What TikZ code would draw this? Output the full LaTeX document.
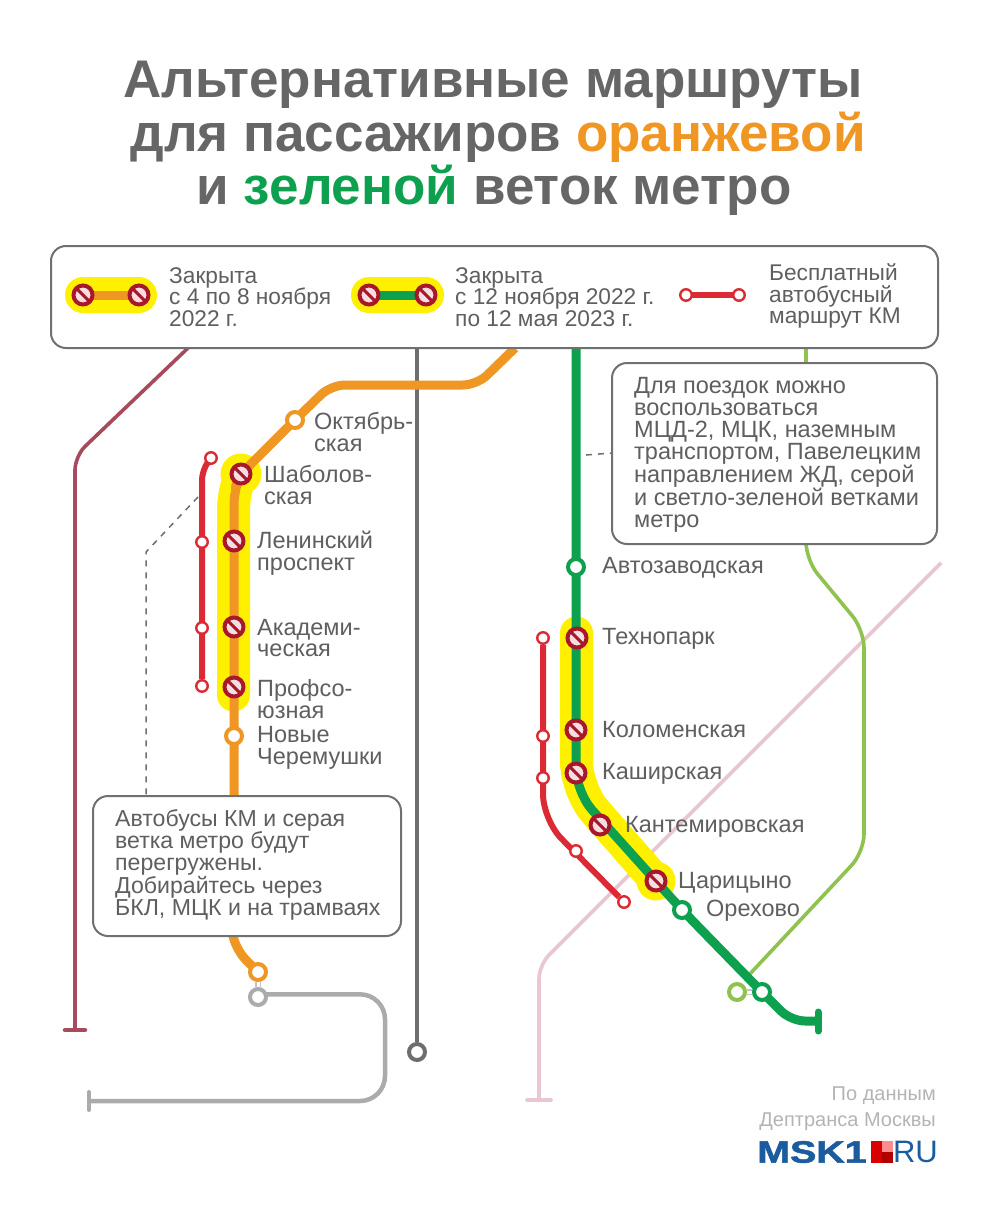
\documentclass[tikz,border=0pt]{standalone}
\usepackage{fontspec}
\setmainfont{Liberation Sans}
\newfontfamily\logofont[FakeBold=1.6]{Liberation Sans Bold}
\usetikzlibrary{calc}
\pgfdeclarelayer{bg}
\pgfsetlayers{bg,main}
\definecolor{txt}{HTML}{5F5F5F}
\definecolor{titlegray}{HTML}{666666}
\definecolor{boxline}{HTML}{707070}
\definecolor{orangeline}{HTML}{EF9623}
\definecolor{greenline}{HTML}{0DA14F}
\definecolor{limeline}{HTML}{8FC24E}
\definecolor{pinkline}{HTML}{E9C6D2}
\definecolor{maroonline}{HTML}{A84A5E}
\definecolor{grayline}{HTML}{ABABAB}
\definecolor{darkline}{HTML}{6E6E6E}
\definecolor{busred}{HTML}{DC2A35}
\definecolor{stopred}{HTML}{A8172A}
\definecolor{stopfill}{HTML}{F6DDE0}
\definecolor{closure}{HTML}{FFF000}
\definecolor{credit}{HTML}{B4B4B4}
\definecolor{logoblue}{HTML}{1B5C9E}
\tikzset{
  lbl/.style={text=txt,anchor=west,align=left,inner sep=0pt,font=\fontsize{23.5}{21.7}\selectfont},
  leglbl/.style={lbl,font=\fontsize{22.7}{21.7}\selectfont},
  warnlbl/.style={lbl,font=\fontsize{23.1}{21.9}\selectfont},
  ttl/.style={text=titlegray,inner sep=0pt,font=\fontsize{53}{53}\selectfont\bfseries},
  infobox/.style={draw=boxline,fill=white,line width=2pt,rounded corners=15pt,inner sep=0pt},
  noentry/.style={circle,draw=stopred,fill=stopfill,line width=4pt,minimum size=19pt,inner sep=0pt,
    path picture={\draw[stopred,line width=3pt] (path picture bounding box.north west) -- (path picture bounding box.south east);}},
  openst/.style={circle,fill=white,line width=4pt,minimum size=16pt,inner sep=0pt},
  busst/.style={circle,draw=busred,fill=white,line width=2.4pt,minimum size=11.5pt,inner sep=0pt},
  metro/.style={line width=9pt,line join=round},
  thinline/.style={line width=3.6pt,line join=round},
  busline/.style={draw=busred,line width=6pt,line join=round},
  closed/.style={draw=closure,line width=33pt,line cap=round,line join=round},
  hint/.style={draw=darkline,line width=1.5pt,dash pattern=on 6pt off 6pt}
}
\begin{document}
\begin{tikzpicture}[x=1pt,y=-1pt]
\useasboundingbox (0,0) rectangle (984,1225);
\begin{pgfonlayer}{bg}
\fill[white] (0,0) rectangle (984,1225);
\end{pgfonlayer}

% title
\node[ttl] (t1) at (493,85) {Альтернативные маршруты};
\node[ttl] (t2) at (498,137) {для пассажиров \textcolor{orangeline}{оранжевой}};
\node[ttl] (t3) at (494,190) {и \textcolor{greenline}{зеленой} веток метро};

% boxes
\node[infobox,minimum width=887pt,minimum height=102pt] (legend) at (494.5,297) {};
\node[infobox,minimum width=325pt,minimum height=181pt] (info) at (774.5,453.5) {};
\node[infobox,minimum width=308pt,minimum height=140pt] (warn) at (247,866) {};

% legend bands and lines sit on the box
\draw[draw=closure,line width=36pt,line cap=round] (83,295) -- (139,295);
\draw[draw=closure,line width=36pt,line cap=round] (369,295) -- (426,295);
\draw[draw=orangeline,line width=9pt] (83,295) -- (139,295);
\draw[draw=greenline,line width=9pt] (369,295) -- (426,295);
\draw[draw=busred,line width=6pt] (686,295) -- (739,295);

\node[noentry] (la) at (83,295) {};
\node[noentry] (lb) at (139,295) {};
\node[noentry] (lc) at (369,295) {};
\node[noentry] (ld) at (426,295) {};
\node[busst] (le) at (686,295) {};
\node[busst] (lf) at (739,295) {};
\node[leglbl] (lt1) at (169,297) {Закрыта\\с 4 по 8 ноября\\2022 г.};
\node[leglbl] (lt2) at (455,297) {Закрыта\\с 12 ноября 2022 г.\\по 12 мая 2023 г.};
\node[leglbl] (lt3) at (769,296) {Бесплатный\\автобусный\\маршрут КМ};

% orange stations
\node[openst,draw=orangeline] (okt) at (295,420) {};
\node[noentry] (sha) at (241,474) {};
\node[noentry] (len) at (234,541) {};
\node[noentry] (aka) at (234,627) {};
\node[noentry] (pro) at (234,687) {};
\node[openst,draw=orangeline] (nov) at (234,736) {};
\node[openst,draw=orangeline] (oend) at (258,972) {};
\node[openst,draw=grayline] (gst) at (258,997) {};
\node[openst,draw=darkline] (dst) at (417,1052) {};

% green stations
\node[openst,draw=greenline] (avt) at (576,567) {};
\node[noentry] (tex) at (577,638) {};
\node[noentry] (kol) at (576,730) {};
\node[noentry] (kas) at (576,773) {};
\node[noentry] (kan) at (600,825) {};
\node[noentry] (car) at (656,881) {};
\node[openst,draw=greenline] (ore) at (682,910) {};
\node[openst,draw=greenline] (gtr) at (762,992) {};
\node[openst,draw=limeline] (ltr) at (737,992) {};

% bus stops
\node[busst] (a1) at (211,458) {};
\node[busst] (a2) at (202,542) {};
\node[busst] (a3) at (202,628) {};
\node[busst] (a4) at (202,686) {};
\node[busst] (b1) at (543,638) {};
\node[busst] (b2) at (543,736) {};
\node[busst] (b3) at (543,778) {};
\node[busst] (b4) at (576,851) {};
\node[busst] (b5) at (624,902) {};

% free line ends
\coordinate (oTop) at (515,348);
\coordinate (gTop) at (576,348);
\coordinate (lTop) at (806,348);
\coordinate (dTop) at (417,348);
\coordinate (mTop) at (188,348);
\coordinate (pTop) at (941,563);
\coordinate (mEnd) at (75,1030);
\coordinate (pEnd) at (539,1100);
\coordinate (gEnd) at (89,1101);
\coordinate (tEnd) at (818,1021);
\coordinate (gStart) at (258,994.3);
\coordinate (bandTop) at (576.5,633);

\begin{pgfonlayer}{bg}
  % thin lines
  \draw[thinline,draw=pinkline,rounded corners=14pt] (pTop) -- (539,965) -- (pEnd);
  \draw[thinline,draw=pinkline,line cap=round] (527,1100) -- (551,1100);
  \draw[thinline,draw=maroonline,rounded corners=14pt] (mTop) -- (75,456) -- (mEnd);
  \draw[line width=4.5pt,draw=maroonline,line cap=round] (65,1030) -- (85,1030);
  \draw[line width=4.5pt,draw=darkline] (dTop) -- (dst);
  \draw[line width=4.5pt,draw=grayline,rounded corners=25pt] (gStart) -- (385,994.3) -- (385,1101) -- (gEnd);
  \draw[line width=4pt,draw=grayline,line cap=round] (89,1092) -- (89,1110);
  \draw[thinline,draw=limeline,rounded corners=18pt] (lTop) -- (806,560) -- (864,630) -- (864,852) -- (748,976);

  % hints
  \draw[hint] (198,497) -- (146,552) -- (146,796);
  \draw[hint] (586,455) -- (612,453);

  % bus lines
  \draw[busline,rounded corners=10pt] (a1) -- (202,470) -- (a4);
  \draw[busline,rounded corners=26pt] (b1) -- (543,820) -- (b5);

  % closure bands
  \draw[closed,rounded corners=14pt] (sha.center) -- (233.5,495) -- (233.5,695);
  \fill[closure] (sha.center) circle[radius=20.5pt];
  \draw[closed,rounded corners=28pt] (bandTop) -- (576.5,790) -- (car.center);
  \fill[closure] (car.center) circle[radius=19.5pt];

  % orange line
  \draw[metro,draw=orangeline,rounded corners=14pt] (oTop) -- (477,385) -- (331,385) -- (okt.center) -- (241,474) -- (234,490) -- (234,936);
  \draw[metro,draw=orangeline,rounded corners=14pt] (233,936) -- (236,950) -- (oend.center);

  % green line
  \draw[metro,draw=greenline,rounded corners=24pt] (gTop) -- (576,792) -- (ore.center) -- (762,992);
  \draw[metro,draw=greenline,rounded corners=14pt] (gtr.center) -- (791,1021) -- (tEnd);
  \draw[draw=greenline,line width=7pt,line cap=round] (818,1012) -- (818,1031);

  % transfers
  \draw[draw=grayline!70,line width=6.5pt] (oend) -- (gst);
  \draw[draw=white,line width=3pt] (oend.center) -- (gst.center);
  \draw[draw=grayline!70,line width=6.5pt] (ltr) -- (gtr);
  \draw[draw=white,line width=3pt] (ltr.center) -- (gtr.center);
\end{pgfonlayer}

% station labels
\node[lbl] (tokt) at (314,432) {Октябрь-\\ская};
\node[lbl] (tsha) at (264,485) {Шаболов-\\ская};
\node[lbl] (tlen) at (257,553) {Ленинский\\проспект};
\node[lbl] (taka) at (257,638) {Академи-\\ческая};
\node[lbl] (tpro) at (257,699) {Профсо-\\юзная};
\node[lbl] (tnov) at (257,748) {Новые\\Черемушки};
\node[lbl] (tavt) at (602,568) {Автозаводская};
\node[lbl] (ttex) at (602,639) {Технопарк};
\node[lbl] (tkol) at (602,730) {Коломенская};
\node[lbl] (tkas) at (602,773.5) {Каширская};
\node[lbl] (tkan) at (625,826.5) {Кантемировская};
\node[lbl] (tcar) at (678,882.5) {Царицыно};
\node[lbl] (tore) at (706,910.5) {Орехово};

% box texts
\node[lbl] (tinfo) at (634,455) {Для поездок можно\\воспользоваться\\МЦД-2, МЦК, наземным\\транспортом, Павелецким\\направлением ЖД, серой\\и светло-зеленой ветками\\метро};
\node[warnlbl] (twarn) at (115,865) {Автобусы КМ и серая\\ветка метро будут\\перегружены.\\Добирайтесь через\\БКЛ, МЦК и на трамваях};

% credit
\node[text=credit,anchor=east,align=right,inner sep=0pt,font=\fontsize{20}{26}\selectfont] (src) at (936,1108.5) {По данным\\Дептранса Москвы};

% logo
\node[text=logoblue,anchor=west,inner sep=0pt,font=\fontsize{31}{31}\selectfont\logofont,xscale=1.27] (lm) at (757,1152) {MSK1};
\node[text=logoblue,anchor=east,inner sep=0pt,font=\fontsize{31}{31}\selectfont] (lr) at (938,1152) {RU};
\fill[red!85!black] (871,1141) rectangle (893,1163);
\fill[red!45!white] (882,1141) rectangle (893,1152);
\fill[red!70!black] (882,1152) rectangle (893,1163);
\end{tikzpicture}
\end{document}
